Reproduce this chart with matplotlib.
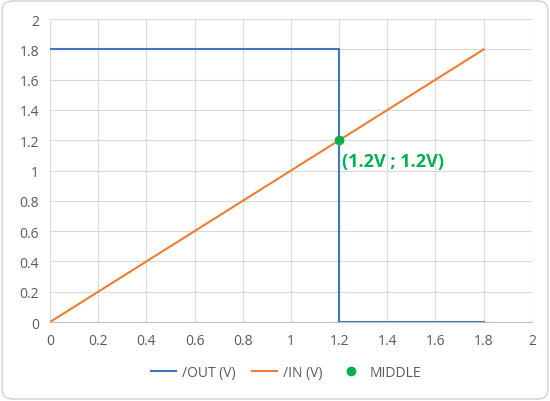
import matplotlib.pyplot as plt
import matplotlib.ticker as ticker
from matplotlib.patches import FancyBboxPatch
from matplotlib.lines import Line2D

out_x = [0, 1.2, 1.2, 1.8]
out_y = [1.8, 1.8, 0, 0]
in_x = [0, 1.8]
in_y = [0, 1.8]
mid_x, mid_y = 1.2, 1.2
mid_label = '(1.2V ; 1.2V)'

plt.rcParams['font.family'] = ['Open Sans', 'DejaVu Sans']

fig = plt.figure(figsize=(5.5, 4.02), dpi=100)
ax = fig.add_axes([0.091, 0.1965, 0.876, 0.7535])

fig.patches.append(FancyBboxPatch((0.004, 0.005), 0.992, 0.99,
                                  boxstyle='round,pad=0,rounding_size=0.02',
                                  transform=fig.transFigure, fc='none',
                                  ec='#d0d0d0', lw=1))

ax.plot(out_x, out_y, color='#4472C4', lw=1.5, label='/OUT (V)')
ax.plot(in_x, in_y, color='#ED7D31', lw=1.5, label='/IN (V)')
ax.plot([mid_x], [mid_y], 'o', color='#00B050', ms=6, label='MIDDLE', zorder=5)
ax.annotate(mid_label, (mid_x, mid_y), xytext=(2, -15), textcoords='offset points',
            color='#00B050', fontsize=13, fontweight='bold', va='center')

ax.set_xlim(0, 2)
ax.set_ylim(0, 2)
ax.xaxis.set_major_locator(ticker.MultipleLocator(0.2))
ax.yaxis.set_major_locator(ticker.MultipleLocator(0.2))
fmt = ticker.FuncFormatter(lambda v, p: f'{v:g}')
ax.xaxis.set_major_formatter(fmt)
ax.yaxis.set_major_formatter(fmt)
ax.tick_params(length=0, labelsize=10, labelcolor='#595959', pad=8)
ax.grid(True, color='#d9d9d9', lw=0.8)
ax.set_axisbelow(True)
for s in ['top', 'right', 'left']:
    ax.spines[s].set_visible(False)
ax.spines['bottom'].set_color('#bfbfbf')

handles = [Line2D([], [], color='#4472C4', lw=1.5),
           Line2D([], [], color='#ED7D31', lw=1.5),
           Line2D([], [], marker='o', ls='none', color='#00B050', ms=6)]
fig.legend(handles, ['/OUT (V)', '/IN (V)', 'MIDDLE'], loc='center',
           bbox_to_anchor=(0.52, 0.07), ncol=3, frameon=False, fontsize=10,
           labelcolor='#595959', handlelength=1.8, handletextpad=0.4,
           columnspacing=1.2)

fig.savefig('out.png', dpi=100)
